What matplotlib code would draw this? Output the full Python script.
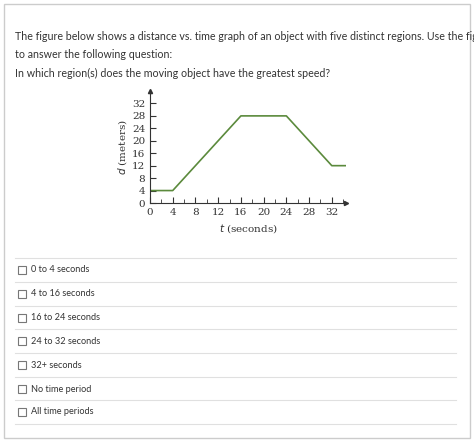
import matplotlib.pyplot as plt
from matplotlib.patches import Rectangle

t = [0, 4, 16, 24, 32, 34.5]
d = [4, 4, 28, 28, 12, 12]
xticks = [0, 4, 8, 12, 16, 20, 24, 28, 32]
yticks = [0, 4, 8, 12, 16, 20, 24, 28, 32]
options = ['0 to 4 seconds', '4 to 16 seconds', '16 to 24 seconds', '24 to 32 seconds',
           '32+ seconds', 'No time period', 'All time periods']

W, H = 474, 443
fig = plt.figure(figsize=(W / 100, H / 100), dpi=100)

def fx(px):
    return px / W

def fy(py):
    return 1 - py / H

# outer frame
fig.patches.append(Rectangle((fx(4), fy(438)), fx(466), 434 / H, transform=fig.transFigure,
                             fill=False, edgecolor='#cccccc', lw=1))

txt = dict(family='Lato', fontsize=7.7, color='#333333', va='center')
fig.text(fx(15), fy(37), 'The figure below shows a distance vs. time graph of an object with five distinct regions. Use the figure', **txt)
fig.text(fx(15), fy(55), 'to answer the following question:', **txt)
fig.text(fx(15), fy(73), 'In which region(s) does the moving object have the greatest speed?', **txt)

ax = fig.add_axes([fx(150), fy(203), 196 / W, 112 / H])
ax.plot(t, d, color='#5b8a3c', lw=1.2)
ax.set_xlim(0, 34.5)
ax.set_ylim(0, 36)
ax.spines['top'].set_visible(False)
ax.spines['right'].set_visible(False)
for s in ['left', 'bottom']:
    ax.spines[s].set_color('#333333')
    ax.spines[s].set_linewidth(0.8)
ax.set_xticks(xticks)
ax.set_xticks(range(0, 35, 2), minor=True)
ax.set_yticks(yticks)
ax.tick_params(direction='in', length=4, labelsize=7.5, colors='#333333')
ax.tick_params(which='minor', direction='in', length=3, color='#333333')
for lab in ax.get_xticklabels() + ax.get_yticklabels():
    lab.set_family('DejaVu Serif')
ax.set_xlabel('$t$ (seconds)', family='DejaVu Serif', fontsize=7.5, color='#333333')
ax.set_ylabel('$d$ (meters)', family='DejaVu Serif', fontsize=7.5, color='#333333', labelpad=2)
ax.plot(1, 0, '>', color='#333333', ms=3, transform=ax.transAxes, clip_on=False)
ax.plot(0, 1, '^', color='#333333', ms=3, transform=ax.transAxes, clip_on=False)

ys = [270, 294, 318, 341, 365, 389, 412]
for i, (lab, y) in enumerate(zip(options, ys)):
    fig.add_artist(plt.Line2D([fx(15), fx(456)], [fy(y - 12), fy(y - 12)], color='#e0e0e0', lw=0.8))
    fig.patches.append(Rectangle((fx(18), fy(y + 4)), 8 / W, 8 / H, transform=fig.transFigure,
                                 fill=False, edgecolor='#777777', lw=0.8))
    fig.text(fx(31), fy(y), lab, family='Lato', fontsize=6.6, color='#333333', va='center')
fig.add_artist(plt.Line2D([fx(15), fx(456)], [fy(424), fy(424)], color='#e0e0e0', lw=0.8))

fig.savefig('out.png', dpi=100)
